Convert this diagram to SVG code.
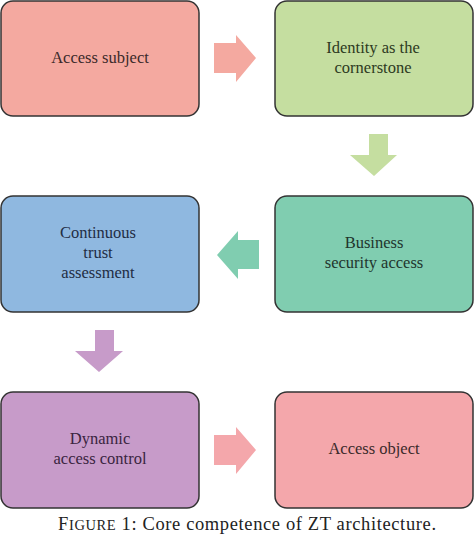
<svg xmlns="http://www.w3.org/2000/svg" width="474" height="535" viewBox="0 0 474 535">
<style>
.box{stroke:#333;stroke-width:1.5}
.t{font-family:"Liberation Serif","Times New Roman",serif;font-size:16.5px;text-anchor:middle}
.cap{font-family:"Liberation Serif","Times New Roman",serif;font-size:18.5px;fill:#222}
</style>
<rect width="474" height="535" fill="#fff"/>
<g id="connectors">
<polygon points="214,43 236,43 236,35 256,58 236,82 236,73 214,73" fill="#f4a9a0"/>
<polygon points="369,134 388,134 388,155 397,155 374,176 350,155 369,155" fill="#c5dea0"/>
<polygon points="259,240 238,240 238,231 217,255 238,279 238,269 259,269" fill="#80cdb0"/>
<polygon points="95,330 114,330 114,351 123,351 99,372 75,351 95,351" fill="#c79bc9"/>
<polygon points="214,435 236,435 236,427 256,450 236,474 236,465 214,465" fill="#f4a7ab"/>
</g>
<g id="n1"><rect class="box" x="1" y="1" width="198" height="115" rx="12" fill="#f4a9a0"/><text class="t" x="100" y="63" fill="#3b2a2a">Access subject</text></g>
<g id="n2"><rect class="box" x="275" y="1" width="198" height="115" rx="12" fill="#c5dea0"/><text class="t" x="373" y="53" fill="#2d3a22">Identity as the</text><text class="t" x="373" y="73" fill="#2d3a22">cornerstone</text></g>
<g id="n3"><rect class="box" x="1" y="196" width="198" height="116" rx="12" fill="#8fb8e0"/><text class="t" x="98" y="238" fill="#1f2d44">Continuous</text><text class="t" x="98" y="258" fill="#1f2d44">trust</text><text class="t" x="98" y="278" fill="#1f2d44">assessment</text></g>
<g id="n4"><rect class="box" x="275" y="196" width="198" height="116" rx="12" fill="#80cdb0"/><text class="t" x="374" y="248" fill="#1f352d">Business</text><text class="t" x="374" y="268" fill="#1f352d">security access</text></g>
<g id="n5"><rect class="box" x="1" y="392" width="198" height="116" rx="12" fill="#c79bc9"/><text class="t" x="100" y="444" fill="#3a2440">Dynamic</text><text class="t" x="100" y="464" fill="#3a2440">access control</text></g>
<g id="n6"><rect class="box" x="275" y="392" width="198" height="116" rx="12" fill="#f4a7ab"/><text class="t" x="374" y="454" fill="#3b2a2a">Access object</text></g>
<text class="cap" x="58" y="530" textLength="378" lengthAdjust="spacing">F<tspan font-size="14.5">IGURE</tspan> 1: Core competence of ZT architecture.</text>
</svg>
